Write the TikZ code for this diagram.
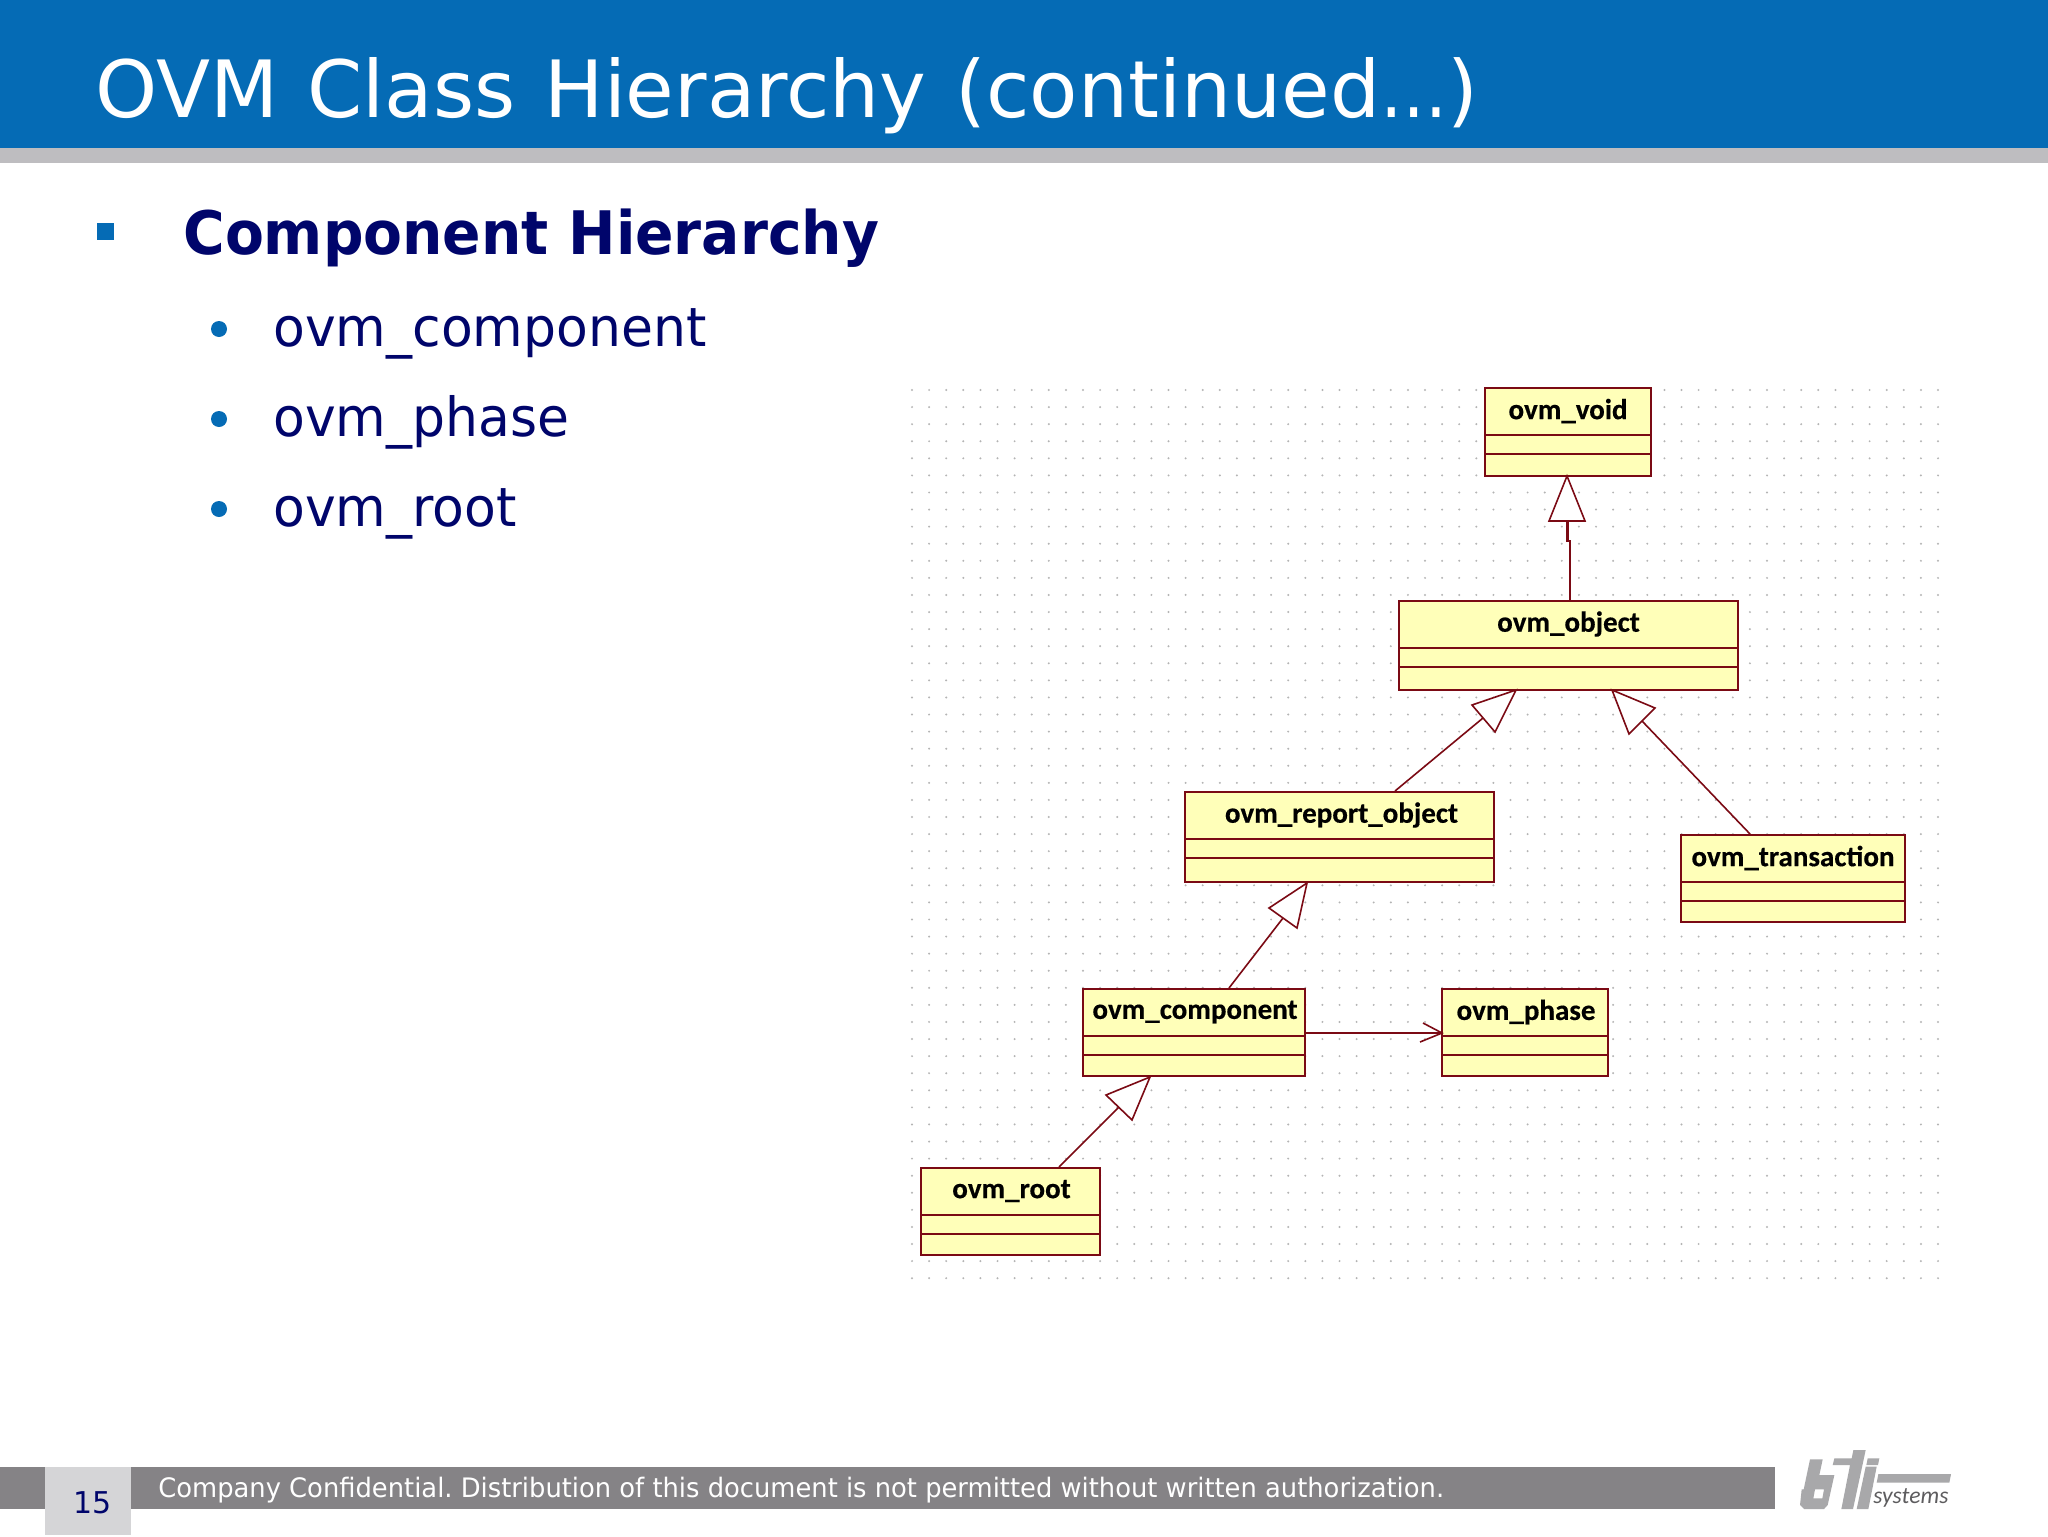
\documentclass[tikz,border=0pt]{standalone}
\usepackage{fontspec}
\setmainfont{DejaVu Sans}
\newfontfamily\headfont[FakeStretch=0.945]{DejaVu Sans}
\newfontfamily\itemfont[FakeStretch=0.962]{DejaVu Sans}
\newfontfamily\footfont[FakeStretch=0.962]{DejaVu Sans}
\newfontfamily\umlfont[FakeBold=0.4]{Carlito}
\newfontfamily\logofont{Carlito}
\definecolor{bandblue}{HTML}{056BB5}
\definecolor{bandgray}{HTML}{BEBDC0}
\definecolor{navy}{HTML}{00056B}
\definecolor{umlred}{HTML}{7B0A14}
\definecolor{umlfill}{HTML}{FFFFB9}
\definecolor{footgray}{HTML}{858386}
\definecolor{pagegray}{HTML}{D5D5D7}
\definecolor{logogray}{HTML}{A8A8AA}
\definecolor{griddot}{HTML}{B4B4B4}
\newcommand{\umlbox}[7]{%
  \node[umlbox, minimum width=#5*0.5pt-#3*0.5pt, minimum height=#6*0.5pt-#4*0.5pt, anchor=north west] (#1) at (#3,#4) {};
  \draw[umlline] (#3,#4+47) -- (#5,#4+47) (#3,#4+66) -- (#5,#4+66);
  \node[umllabel] (#1label) at ({(#3+#5)/2+#7},#4+23) {#2};
}
\newcommand{\hollowtip}[3]{%
  \filldraw[umlthin, fill=white] (#1) -- (#2) -- (#3) -- cycle;
}
\tikzset{
  umlbox/.style={draw=umlred, fill=umlfill, line width=1.4pt, inner sep=0pt, outer sep=0pt},
  umlline/.style={draw=umlred, line width=1.1pt},
  umlthin/.style={draw=umlred, line width=0.8pt, line join=miter},
  umllabel/.style={font=\umlfont\bfseries\fontsize{14.5}{16}\selectfont, text=black, inner sep=0pt},
  itemtext/.style={anchor=base west, text=navy, inner sep=0pt, font=\itemfont\fontsize{27}{32}\selectfont},
}
\begin{document}
\begin{tikzpicture}[x=0.5pt,y=-0.5pt]
\useasboundingbox (0,0) rectangle (2048,1536);
\fill[white] (0,0) rectangle (2048,1536);
% header
\fill[bandgray] (0,148) rectangle (2048,163);
\fill[bandblue] (0,0) rectangle (2048,148);
\node[anchor=base west, text=white, inner sep=0pt, font=\fontsize{39.5}{46}\selectfont] (title) at (95,118) {\spaceskip=14.6pt plus 0pt OVM Class Hierarchy (continued{\addfontfeature{FakeStretch=0.85}…})};
% bullets
\fill[bandblue] (97,223) rectangle (114,240);
\node[anchor=base west, text=navy, inner sep=0pt, font=\headfont\bfseries\fontsize{30}{36}\selectfont] (heading) at (183,254) {Component Hierarchy};
\fill[bandblue] (219,329) circle (8);
\fill[bandblue] (219,419) circle (8);
\fill[bandblue] (219,509) circle (8);
\node[itemtext] (i1) at (273,346) {ovm\_component};
\node[itemtext] (i2) at (273,436) {ovm\_phase};
\node[itemtext] (i3) at (273,526) {ovm\_root};
% dot grid
\foreach \i in {0,...,60} {
  \foreach \j in {0,...,52} {
    \fill[griddot] ({912+17.1*\i},{390+17.08*\j}) circle (1.1);
  }
}
% class boxes
\umlbox{void}{ovm\_void}{1485}{388}{1651}{476}{0}
\umlbox{object}{ovm\_object}{1399}{601}{1738}{690}{0}
\umlbox{report}{ovm\_report\_object}{1185}{792}{1494}{882}{2}
\umlbox{transaction}{ovm\_transaction}{1681}{835}{1905}{922}{0}
\umlbox{component}{ovm\_component}{1083}{989}{1305}{1076}{1}
\umlbox{phase}{ovm\_phase}{1442}{989}{1608}{1076}{1}
\umlbox{root}{ovm\_root}{921}{1168}{1100}{1255}{1}
% connectors
\coordinate (voidtip) at (1567,476);
\coordinate (objtop) at (1570,601);
\coordinate (kink) at (1570,541);
\coordinate (kinkb) at (1567.5,541);
\coordinate (voidbase) at (1567.5,521);
\draw[umlline] (objtop) -- (kink) -- (kinkb) -- (voidbase);
\hollowtip{voidtip}{1549,521}{1585,521}
\coordinate (r1) at (1395,791);
\coordinate (r2) at (1483,718);
\draw[umlthin] (r1) -- (r2);
\hollowtip{1516,690}{1472,705}{1495,732}
\coordinate (t1) at (1750,834);
\coordinate (t2) at (1642,721);
\draw[umlthin] (t1) -- (t2);
\hollowtip{1612,690}{1655,708}{1629,734}
\coordinate (c1) at (1229,988);
\coordinate (c2) at (1283,918);
\draw[umlthin] (c1) -- (c2);
\hollowtip{1307,883}{1269,908}{1297,928}
\coordinate (o1) at (1059,1167);
\coordinate (o2) at (1119,1107);
\draw[umlthin] (o1) -- (o2);
\hollowtip{1150,1077}{1106,1095}{1132,1120}
\coordinate (p1) at (1305,1033);
\coordinate (p2) at (1442,1033);
\draw[umlred, line width=1.3pt] (p1) -- (p2);
\draw[umlthin] (1423,1023) -- (p2) -- (1420,1042);
% footer
\fill[footgray] (0,1467) rectangle (1775,1509);
\fill[pagegray] (45,1467) rectangle (131,1535);
\node[text=navy, inner sep=0pt, font=\fontsize{15}{18}\selectfont] (pagenum) at (93,1503) {15};
\node[anchor=base west, text=white, inner sep=0pt, font=\footfont\fontsize{13.4}{16}\selectfont] (foot) at (158,1497) {\frenchspacing Company Confidential. Distribution of this document is not permitted without written authorization.};
% logo
\begin{scope}[shift={(1700,1430)},x=0.16667pt,y=-0.16667pt]
\fill[logogray, even odd rule] (330,88) -- (368,88) -- (358,135) -- (403,135) -- (383,225) -- (372,237) -- (312,237) -- (300,225) -- (305,178) -- (311,178) -- cycle
  (345,178) -- (372,178) -- (367,205) -- (340,205) -- cycle;
\fill[logogray] (403,85) -- (455,85) -- (460,60) -- (497,60) -- (459,237) -- (424,237) -- (450,105) -- (398,105) -- cycle;
\fill[logogray] (503,85) -- (538,85) -- (534,105) -- (499,105) -- cycle;
\fill[logogray] (497,110) -- (530,110) -- (505,237) -- (470,237) -- cycle;
\fill[logogray] (535,132) -- (753,132) -- (748,158) -- (530,158) -- cycle;
\end{scope}
\node[anchor=base west, text=footgray!70!black, inner sep=0pt, font=\logofont\itshape\fontsize{11.8}{14}\selectfont] (logotext) at (1873,1503) {systems};
\end{tikzpicture}
\end{document}
